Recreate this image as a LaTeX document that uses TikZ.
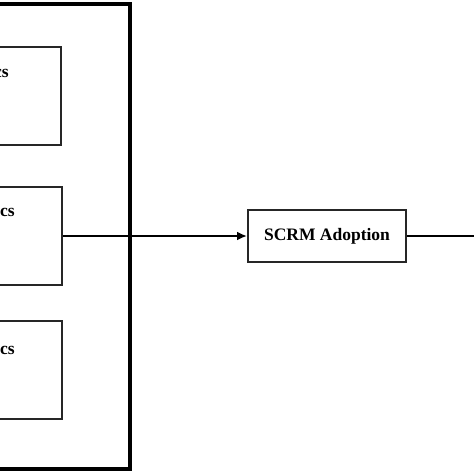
\documentclass[tikz,border=0pt]{standalone}
\usepackage{fontspec}
\setmainfont{Liberation Serif}
\usetikzlibrary{arrows.meta}
\begin{document}
\begin{tikzpicture}[x=1pt,y=-1pt,
  boxstyle/.style={draw=black!85,line width=2pt,fill=white,inner sep=0pt,minimum width=260pt,minimum height=98pt},
  lbl/.style={font=\fontsize{17.5}{20}\selectfont\bfseries,inner sep=0pt,anchor=base east},
  conn/.style={line width=2.6pt,draw=black}]
\useasboundingbox (0,0) rectangle (474,474);
\clip (0,0) rectangle (474,474);
\fill[white] (0,0) rectangle (474,474);
\node[draw=black,line width=3.2pt,inner sep=0pt,minimum width=400pt,minimum height=465pt] (outer) at (-70,236.5) {};
\node[boxstyle] (b1) at (-69,96) {};
\node[boxstyle] (b2) at (-68,236) {};
\node[boxstyle] (b3) at (-68,370) {};
\node[lbl] (t1) at (9,77) {cs};
\node[lbl] (t2) at (15,216) {cs};
\node[lbl] (t3) at (15,354) {cs};
\node[draw=black!85,line width=2pt,minimum width=158pt,minimum height=52pt,inner sep=0pt,font=\fontsize{17.5}{20}\selectfont\bfseries] (scrm) at (327,236) {SCRM Adoption};
\coordinate (out) at (480,236);
\draw[conn,-{Latex[length=10pt,width=9pt]}] (b2.east) -- (scrm.west);
\draw[conn] (scrm.east) -- (out);
\end{tikzpicture}
\end{document}
